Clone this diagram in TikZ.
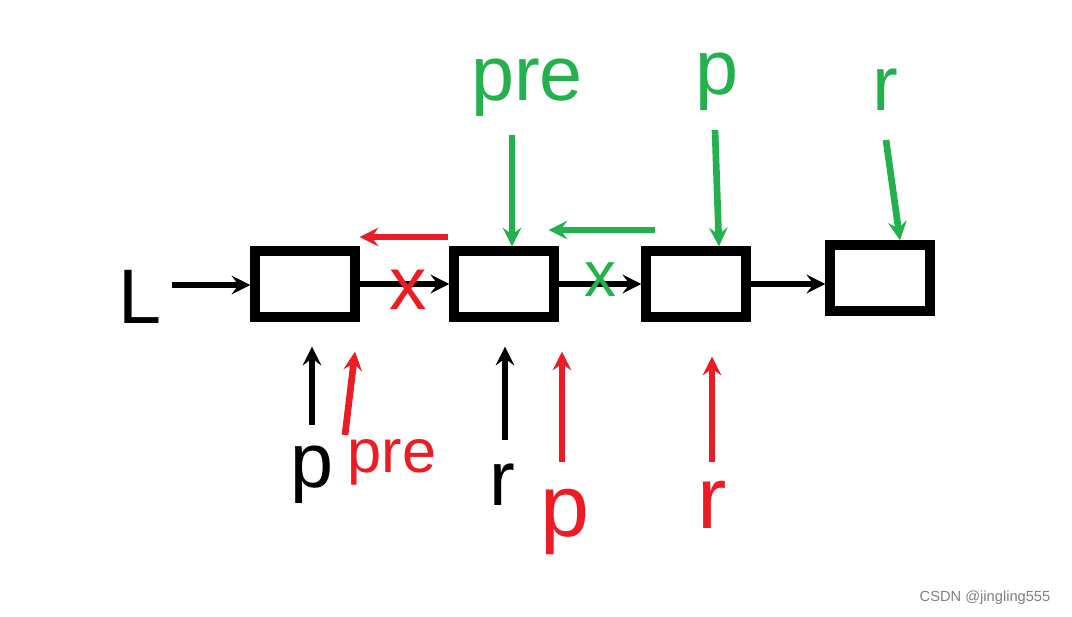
\documentclass[tikz,border=0pt]{standalone}
\usepackage{fontspec}
\setmainfont{Liberation Sans}
\usetikzlibrary{arrows,calc}
\definecolor{cred}{RGB}{237,28,36}
\definecolor{cgreen}{RGB}{34,177,76}
\tikzset{every path/.style={line width=5pt,>=stealth},
box/.style={draw,line width=7pt,minimum width=100pt*0.75,minimum height=66pt*0.75,inner sep=0pt},
lab/.style={font=\fontsize{58}{58}\selectfont,inner sep=0pt}}
\begin{document}
\begin{tikzpicture}[x=0.75pt,y=-0.75pt]
\useasboundingbox (0,0) rectangle (1072,617);
\node[box] (b1) at (305,284) {};
\node[box] (b2) at (504,284) {};
\node[box] (b3) at (696,284) {};
\node[box] (b4) at (880,278) {};

\node[lab] (L) at (140,297) {L};
\node[lab,cgreen] (gpre) at (527,88) {pre};
\node[lab,cgreen] (gp) at (717,82) {p};
\node[lab,cgreen] (gr) at (885,90) {r};
\node[lab] (kp) at (312,475) {p};
\node[lab,cred,font=\fontsize{46}{46}\selectfont] (rpre) at (392,462) {pre};
\node[lab] (kr) at (502,485) {r};
\node[lab,cred,font=\fontsize{66}{66}\selectfont] (rp) at (565,522) {p};
\node[lab,cred,font=\fontsize{66}{66}\selectfont] (rr) at (712,505) {r};
\node[font=\fontsize{11}{11}\selectfont,color=gray] (mark) at (985,598) {CSDN @jingling555};

% next pointers
\coordinate (Lend) at (172,285);
\draw[->] (Lend) -- (b1.west |- Lend);
\draw[->] (b1.east) -- (b2.west);
\draw[->] (b2.east) -- (b3.west);
\draw[->] (b3.east) -- (b4.west |- b3.east);
\node[lab,cred,font=\fontsize{56}{56}\selectfont] (x1) at (408,290) {x};
\node[lab,cgreen,font=\fontsize{48}{48}\selectfont] (x2) at (600,280) {x};

% reversed pointers
\coordinate (ra) at (448,237);
\coordinate (ga) at (655,230);
\draw[->,cred] (ra) -- (b1.north east |- ra);
\draw[->,cgreen] (ga) -- ($(b2.north east |- ga)+(-10,0)$);

% green pointers
\coordinate (g1) at (512,135);
\coordinate (g2) at (715,130);
\coordinate (g3) at (886,140);
\draw[->,cgreen] (g1) -- (g1 |- b2.north);
\draw[->,cgreen] (g2) -- ($(g2 |- b3.north)+(4,0)$);
\draw[->,cgreen] (g3) -- ($(b4.north)+(20,0)$);

% black pointers
\coordinate (k1) at (312,425);
\coordinate (k2) at (505,440);
\draw[->] (k1) -- ($(k1 |- b1.south)+(0,25)$);
\draw[->] (k2) -- ($(k2 |- b2.south)+(0,25)$);

% red pointers
\coordinate (r1) at (345,435);
\coordinate (r2) at (562,462);
\coordinate (r3) at (712,462);
\draw[->,cred] (r1) -- ($(b1.south)+(50,30)$);
\draw[->,cred] (r2) -- ($(r2 |- b2.south)+(0,30)$);
\draw[->,cred] (r3) -- ($(r3 |- b3.south)+(0,35)$);
\end{tikzpicture}
\end{document}
